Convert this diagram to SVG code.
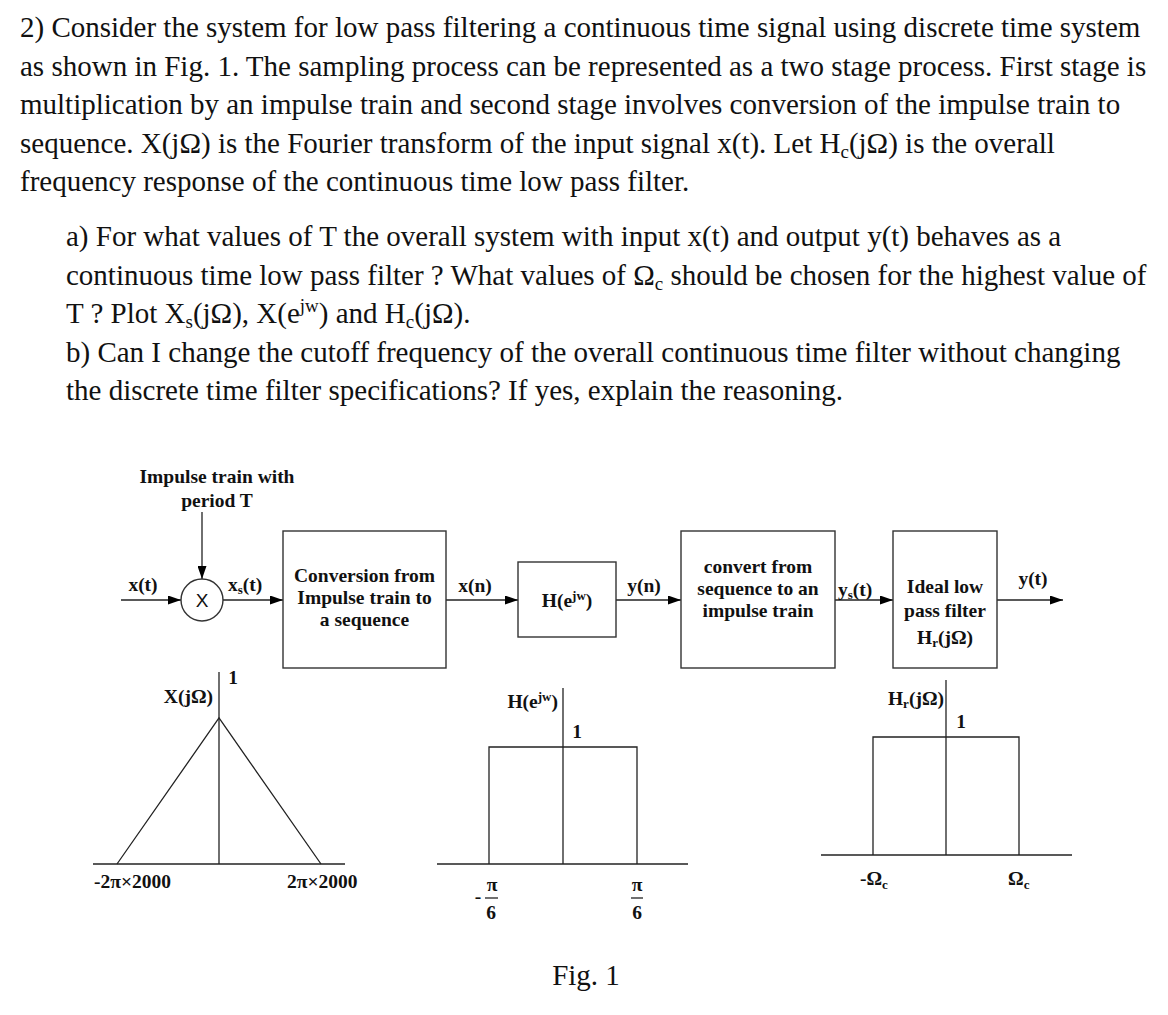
<svg xmlns="http://www.w3.org/2000/svg" width="1168" height="1015" viewBox="0 0 1168 1015">
<defs>
<marker id="arr" markerUnits="userSpaceOnUse" markerWidth="13" markerHeight="9" refX="13" refY="4.5" orient="auto">
<path d="M0,0 L13,4.5 L0,9 z" fill="#000"/>
</marker>
<style>
.body{font-family:"Liberation Serif","Times New Roman",serif;font-size:29px;fill:#111}
.lbl{font-family:"Liberation Serif","Times New Roman",serif;font-size:19.5px;font-weight:bold;fill:#111}
.mid{text-anchor:middle}
.end{text-anchor:end}
.box{fill:#fff;stroke:#333;stroke-width:1.4}
.ln{fill:none;stroke:#222;stroke-width:1.3}
.con{fill:none;stroke:#222;stroke-width:1.3;marker-end:url(#arr)}
</style>
</defs>
<rect width="1168" height="1015" fill="#fff"/>

<g id="question">
<text class="body" x="20" y="37">2) Consider the system for low pass filtering a continuous time signal using discrete time system</text>
<text class="body" x="20" y="75.5">as shown in Fig. 1. The sampling process can be represented as a two stage process. First stage is</text>
<text class="body" x="20" y="114">multiplication by an impulse train and second stage involves conversion of the impulse train to</text>
<text class="body" x="20" y="152.5">sequence. X(jΩ) is the Fourier transform of the input signal x(t). Let H<tspan dy="5" font-size="19">c</tspan><tspan dy="-5">(jΩ) is the overall</tspan></text>
<text class="body" x="20" y="191">frequency response of the continuous time low pass filter.</text>
<text class="body" x="66" y="246">a) For what values of T the overall system with input x(t) and output y(t) behaves as a</text>
<text class="body" x="66" y="284.5">continuous time low pass filter ? What values of Ω<tspan dy="5" font-size="19">c</tspan><tspan dy="-5"> should be chosen for the highest value of</tspan></text>
<text class="body" x="66" y="323">T ? Plot X<tspan dy="5" font-size="19">s</tspan><tspan dy="-5">(jΩ), X(e</tspan><tspan dy="-11" font-size="19">jw</tspan><tspan dy="11">) and H</tspan><tspan dy="5" font-size="19">c</tspan><tspan dy="-5">(jΩ).</tspan></text>
<text class="body" x="66" y="361.5">b) Can I change the cutoff frequency of the overall continuous time filter without changing</text>
<text class="body" x="66" y="400">the discrete time filter specifications? If yes, explain the reasoning.</text>
</g>

<g id="connectors">
<line class="con" x1="202" y1="512" x2="202" y2="579"/>
<line class="con" x1="121" y1="600" x2="181" y2="600"/>
<line class="con" x1="223" y1="600" x2="283" y2="600"/>
<line class="con" x1="446" y1="600" x2="518" y2="600"/>
<line class="con" x1="616" y1="600" x2="681" y2="600"/>
<line class="con" x1="835" y1="600" x2="893" y2="600"/>
<line class="con" x1="997" y1="600" x2="1063" y2="600"/>
<text class="lbl mid" x="217" y="483">Impulse train with</text>
<text class="lbl mid" x="217" y="507">period T</text>
<text class="lbl mid" x="143" y="591">x(t)</text>
<text class="lbl" x="228" y="591">x<tspan dy="3" font-size="13">s</tspan><tspan dy="-3">(t)</tspan></text>
<text class="lbl mid" x="475" y="592">x(n)</text>
<text class="lbl mid" x="644" y="592">y(n)</text>
<text class="lbl" x="838" y="596">y<tspan dy="3" font-size="13">s</tspan><tspan dy="-3">(t)</tspan></text>
<text class="lbl mid" x="1033" y="585">y(t)</text>
</g>

<g id="multiplier">
<circle cx="202" cy="600" r="21" class="box"/>
<text x="202" y="607" text-anchor="middle" font-family="Liberation Sans, Arial, sans-serif" font-size="19" fill="#111">X</text>
</g>

<g id="conv-impulse-to-seq">
<rect class="box" x="283" y="531" width="163" height="137"/>
<text class="lbl mid" x="364.5" y="582">Conversion from</text>
<text class="lbl mid" x="364.5" y="604">Impulse train to</text>
<text class="lbl mid" x="364.5" y="626">a sequence</text>
</g>

<g id="dt-filter">
<rect class="box" x="518" y="562" width="98" height="75"/>
<text class="lbl mid" x="567" y="607">H(e<tspan dy="-7" font-size="13">jw</tspan><tspan dy="7">)</tspan></text>
</g>

<g id="conv-seq-to-impulse">
<rect class="box" x="681" y="531" width="154" height="137"/>
<text class="lbl mid" x="758" y="573">convert from</text>
<text class="lbl mid" x="758" y="595">sequence to an</text>
<text class="lbl mid" x="758" y="617">impulse train</text>
</g>

<g id="lowpass">
<rect class="box" x="893" y="531" width="104" height="137"/>
<text class="lbl mid" x="945" y="593">Ideal low</text>
<text class="lbl mid" x="945" y="617">pass filter</text>
<text class="lbl mid" x="945" y="644">H<tspan dy="3" font-size="13">r</tspan><tspan dy="-3">(jΩ)</tspan></text>
</g>

<g id="plot-x">
<line class="ln" x1="219" y1="672" x2="219" y2="864"/>
<line class="ln" x1="93" y1="864" x2="345" y2="864"/>
<polyline class="ln" points="117,864 219,718 321,864"/>
<text class="lbl mid" x="233" y="684">1</text>
<text class="lbl end" x="213" y="703">X(jΩ)</text>
<text class="lbl" x="94" y="888">-2π×2000</text>
<text class="lbl" x="287" y="888">2π×2000</text>
</g>

<g id="plot-h">
<line class="ln" x1="563" y1="688" x2="563" y2="864"/>
<line class="ln" x1="437" y1="864" x2="688" y2="864"/>
<polyline class="ln" points="489,864 489,747 637,747 637,864"/>
<text class="lbl end" x="558" y="708">H(e<tspan dy="-7" font-size="13">jw</tspan><tspan dy="7">)</tspan></text>
<text class="lbl mid" x="577" y="738">1</text>
<text class="lbl mid" x="478" y="903">-</text>
<text class="lbl mid" x="492" y="891">π</text>
<line class="ln" x1="485" y1="898" x2="498" y2="898"/>
<text class="lbl mid" x="491" y="919">6</text>
<text class="lbl mid" x="637" y="891">π</text>
<line class="ln" x1="631" y1="898" x2="643" y2="898"/>
<text class="lbl mid" x="637" y="919">6</text>
</g>

<g id="plot-hr">
<line class="ln" x1="946" y1="680" x2="946" y2="855"/>
<line class="ln" x1="821" y1="855" x2="1072" y2="855"/>
<polyline class="ln" points="873,855 873,737 1019,737 1019,855"/>
<text class="lbl end" x="944" y="705">H<tspan dy="3" font-size="13">r</tspan><tspan dy="-3">(jΩ)</tspan></text>
<text class="lbl mid" x="961" y="728">1</text>
<text class="lbl" x="860" y="885">-Ω<tspan dy="4" font-size="13">c</tspan></text>
<text class="lbl" x="1008" y="885">Ω<tspan dy="4" font-size="13">c</tspan></text>
</g>

<g id="caption">
<text class="body" x="586" y="985" text-anchor="middle" font-size="28">Fig. 1</text>
</g>
</svg>
